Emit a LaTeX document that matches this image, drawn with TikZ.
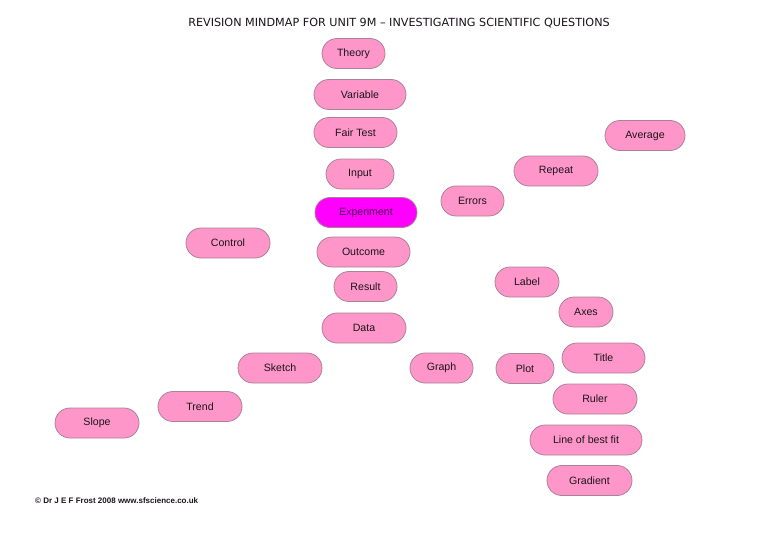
\documentclass[tikz,border=0pt]{standalone}
\usepackage{fontspec}
\setmainfont{Liberation Sans}
\newfontfamily\titlefont{DejaVu Sans}
\usetikzlibrary{shapes.misc}
\definecolor{pillfill}{RGB}{255,150,202}
\definecolor{pillborder}{RGB}{170,130,150}
\definecolor{keyfill}{RGB}{255,0,255}
\definecolor{keytext}{RGB}{70,0,80}
\definecolor{inktext}{RGB}{25,20,25}
\tikzset{
  pill/.style={rounded rectangle, draw=pillborder, line width=0.8pt, fill=pillfill,
    minimum height=30pt, inner sep=0pt, text=inktext,
    font=\fontsize{10.6}{12}\selectfont},
  keypill/.style={pill, fill=keyfill, text=keytext},
  titletext/.style={font=\titlefont\fontsize{11.2}{13}\selectfont, text=inktext},
  foottext/.style={font=\bfseries\fontsize{8}{9}\selectfont, text=inktext, anchor=west, inner sep=0pt}
}
\begin{document}
\begin{tikzpicture}[x=1pt,y=-1pt]
\useasboundingbox (0,0) rectangle (768,543);
\node[titletext] (title) at (399,23) {REVISION MINDMAP FOR UNIT 9M – INVESTIGATING SCIENTIFIC QUESTIONS};
\node[pill, minimum width=63pt] (theory) at (353.5,53.5) {Theory};
\node[pill, minimum width=92pt] (variable) at (360,94.5) {Variable};
\node[pill, minimum width=83pt] (fairtest) at (355.5,132.5) {Fair Test};
\node[pill, minimum width=68pt] (input) at (360,174) {Input};
\node[keypill, minimum width=102pt] (experiment) at (366,212.5) {Experiment};
\node[pill, minimum width=93pt] (outcome) at (363.5,252) {Outcome};
\node[pill, minimum width=63pt] (result) at (365.5,286.5) {Result};
\node[pill, minimum width=84pt] (data) at (364,328) {Data};
\node[pill, minimum width=84pt] (control) at (228,243) {Control};
\node[pill, minimum width=63pt] (errors) at (472.5,201) {Errors};
\node[pill, minimum width=84pt] (repeat) at (556,171) {Repeat};
\node[pill, minimum width=80pt] (average) at (645,135.5) {Average};
\node[pill, minimum width=64pt] (label) at (527,282) {Label};
\node[pill, minimum width=54pt] (axes) at (586,312) {Axes};
\node[pill, minimum width=58pt] (plot) at (525,368.5) {Plot};
\node[pill, minimum width=83pt] (titlenode) at (603.5,358) {Title};
\node[pill, minimum width=84pt] (ruler) at (595,399) {Ruler};
\node[pill, minimum width=112pt] (bestfit) at (586,440) {Line of best fit};
\node[pill, minimum width=85pt] (gradient) at (589.5,480.5) {Gradient};
\node[pill, minimum width=63pt] (graph) at (441.5,368) {Graph};
\node[pill, minimum width=84pt] (sketch) at (280,368) {Sketch};
\node[pill, minimum width=84pt] (trend) at (200,406.5) {Trend};
\node[pill, minimum width=84pt] (slope) at (97,423) {Slope};
\node[foottext] (footer) at (35,501) {\textcopyright{} Dr J E F Frost 2008 www.sfscience.co.uk};
\end{tikzpicture}
\end{document}
